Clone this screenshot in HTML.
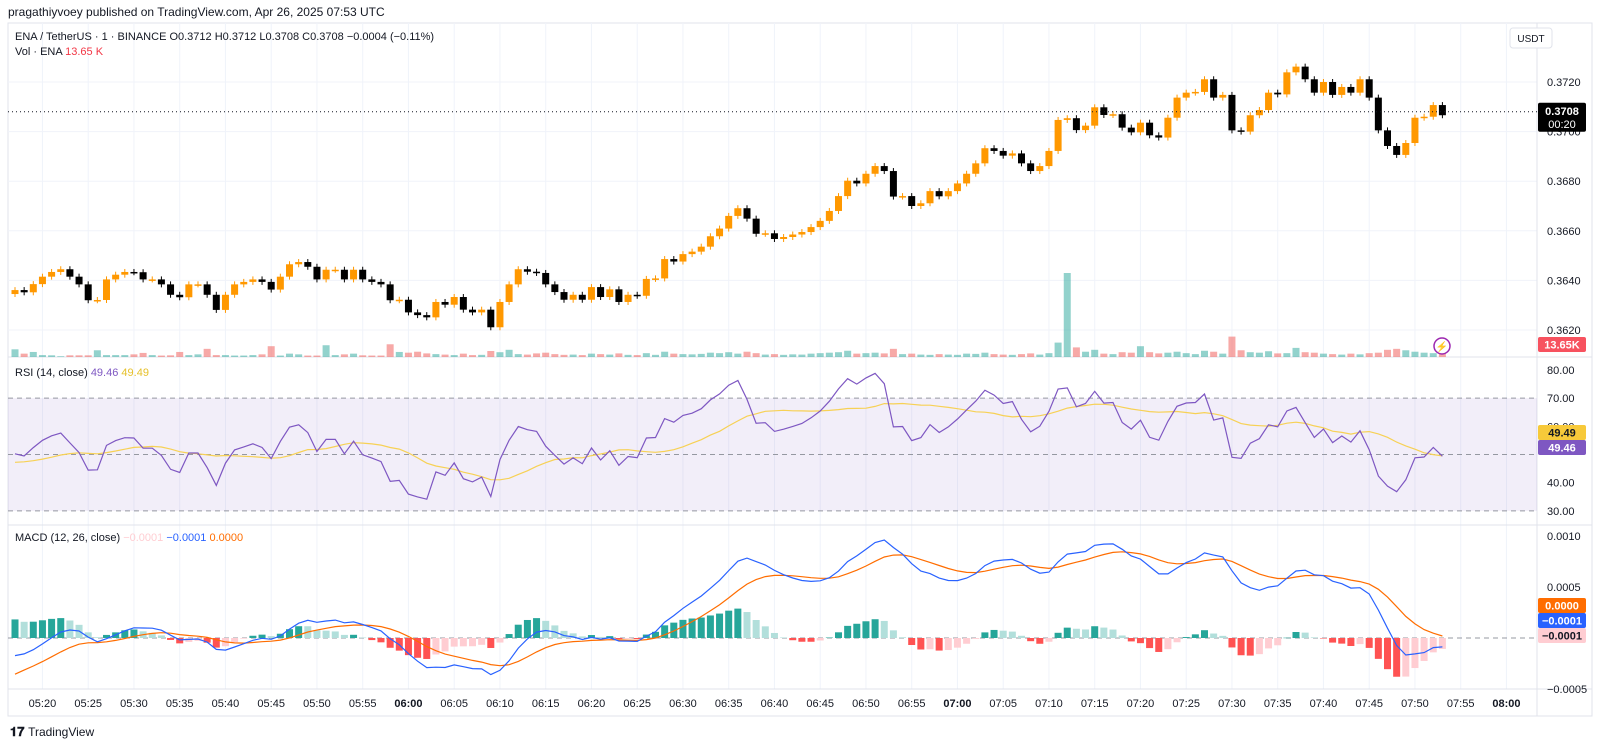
<!DOCTYPE html>
<html><head><meta charset="utf-8"><style>
body{margin:0;background:#fff;width:1600px;height:747px;overflow:hidden;font-family:"Liberation Sans",sans-serif}
svg text{font-family:"Liberation Sans",sans-serif}
</style></head><body>
<svg id="c" width="1600" height="747" viewBox="0 0 1600 747" xmlns="http://www.w3.org/2000/svg">
<rect x="0" y="0" width="1600" height="747" fill="#fff"/>
<text x="8" y="16" font-size="12" fill="#131722">pragathiyvoey published on TradingView.com, Apr 26, 2025 07:53 UTC</text>
<rect x="8" y="23" width="1584" height="693" fill="none" stroke="#e0e3eb"/>
<g id="grid"></g>
<g id="vol"></g>
<g id="candles"></g>
<g id="rsi"></g>
<g id="macd"></g>
<g id="axes"></g>
<text x="15" y="40" font-size="11" fill="#131722">ENA / TetherUS · 1 · BINANCE  O0.3712  H0.3712  L0.3708  C0.3708  −0.0004 (−0.11%)</text>
<text x="15" y="55" font-size="11" fill="#131722">Vol · ENA <tspan fill="#f23645">13.65 K</tspan></text>
<text x="15" y="376" font-size="11" fill="#131722">RSI (14, close) <tspan fill="#7e57c2">49.46</tspan> <tspan fill="#e6c02a">49.49</tspan></text>
<text x="15" y="541" font-size="11" fill="#131722">MACD (12, 26, close) <tspan fill="#ffcdd2">−0.0001</tspan> <tspan fill="#2962ff">−0.0001</tspan> <tspan fill="#ff6d00">0.0000</tspan></text>
<rect x="1510" y="28" width="42" height="20" rx="3" fill="#fff" stroke="#e0e3eb"/>
<text x="1531" y="42" font-size="10" text-anchor="middle" fill="#131722">USDT</text>
<circle cx="1442" cy="346" r="8" fill="#fff" stroke="#9c27b0" stroke-width="1.5"/>
<text x="1442" y="350" font-size="10" text-anchor="middle" fill="#9c27b0">⚡</text>
<text x="10" y="736" font-size="13" font-weight="bold" fill="#131722">𝟏𝟕 <tspan font-weight="normal" font-size="12">TradingView</tspan></text>
</svg>
<script>
const closes=[0.36361,0.36352,0.36385,0.36415,0.36434,0.36445,0.36415,0.36384,0.36320,0.36321,0.36404,0.36423,0.36434,0.36433,0.36404,0.36404,0.36384,0.36342,0.36332,0.36384,0.36384,0.36342,0.36281,0.36342,0.36384,0.36394,0.36404,0.36394,0.36363,0.36415,0.36465,0.36474,0.36455,0.36404,0.36443,0.36443,0.36404,0.36443,0.36404,0.36394,0.36384,0.36320,0.36322,
0.36271,0.36260,0.36251,0.36313,0.36302,0.36333,0.36282,0.36271,0.36282,0.36211,0.36313,0.36384,0.36445,0.36435,0.36430,0.36384,0.36353,
0.36322,0.36342,0.36322,0.36373,0.36333,0.36364,0.36313,0.36342,0.36338,0.36406,0.36408,0.36486,0.36476,0.36506,0.36516,0.36536,0.36578,0.36609,0.36660,0.36691,
0.36649,0.36588,0.36590,0.36567,0.36575,0.36585,0.36595,0.36615,0.36640,0.36680,0.36740,0.36802,0.36791,0.36830,0.36861,0.36841,0.36738,0.36740,0.36700,0.36711,
0.36760,0.36739,0.36760,0.36791,0.36830,0.36872,0.36933,0.36922,0.36903,0.36912,0.36872,0.36841,0.36861,0.36922,0.37047,0.37054,0.37006,0.37024,0.37098,0.37067,
0.37070,0.37016,0.36997,0.37036,0.36985,0.36976,0.37056,0.37137,0.37157,0.37160,0.37211,0.37137,0.37148,0.37005,0.37000,0.37066,0.37087,0.37157,0.37150,0.37239,
0.37262,0.37211,0.37157,0.37200,0.37148,0.37180,0.37157,0.37211,0.37137,0.37005,0.36942,0.36906,0.36954,0.37056,0.37060,0.37107,0.37066];
const firstOpen=0.36345;
const volumes=[32,14,21,8,7,3,7,7,7,28,8,8,8,11,17,8,6,7,21,8,11,34,8,8,6,6,8,11,45,6,14,11,6,6,49,8,11,14,7,6,6,53,21,
18,22,15,12,10,8,14,8,9,25,20,30,12,10,15,18,12,
9,10,8,14,12,10,15,9,8,16,9,22,14,12,11,13,18,16,20,14,
22,16,10,12,9,11,10,14,16,18,20,26,14,16,18,15,34,12,14,10,
9,12,10,9,14,13,18,12,10,9,12,15,10,16,60,350,40,22,30,14,
12,20,18,45,20,15,18,22,16,12,26,22,14,85,28,20,18,24,15,16,
38,20,18,14,12,10,14,11,16,18,30,34,28,22,18,16,14];
const priceTicks=[0.3720,0.3700,0.3680,0.3660,0.3640,0.3620];
const rsiTicks=[80,70,60,40,30];
const macdTicks=[0.0010,0.0005,-0.0005];
const timeLabels=["05:20","05:25","05:30","05:35","05:40","05:45","05:50","05:55","06:00","06:05","06:10","06:15","06:20","06:25","06:30","06:35","06:40","06:45","06:50","06:55","07:00","07:05","07:10","07:15","07:20","07:25","07:30","07:35","07:40","07:45","07:50","07:55","08:00"];
const lastPrice=0.3708;
// indicator warm-up state (history before the visible window)
const seedAvgGain=0.00022, seedAvgLoss=0.00023, seedRsiMa=47;
const seedEma12Offset=0, seedEma26Offset=0.0002, seedSignal=-0.0004;

const NS="http://www.w3.org/2000/svg";
function mk(tag,attrs,parent){const e=document.createElementNS(NS,tag);for(const k in attrs)e.setAttribute(k,attrs[k]);parent.appendChild(e);return e;}
const X=i=>15+i*9.15;
const Y=p=>82+(0.3720-p)*24800;
const VY=v=>357-v*0.24;
const RY=r=>454.5-(r-50)*2.82;
const MY=m=>638-m*102000;
const tMin=s=>{const [h,m]=s.split(":").map(Number);return (h*60+m)-(5*60+17);};
const PR=1537;
const grid=document.getElementById('grid'),axes=document.getElementById('axes');

timeLabels.forEach(t=>{const x=X(tMin(t));
 const l=mk('line',{x1:x,x2:x,y1:23,y2:689,stroke:'#f0f3fa'},grid);
 
 
 const tx=mk('text',{x:x,y:707,'font-size':11,'text-anchor':'middle',fill:'#131722','font-weight':/:00$/.test(t)?'bold':'normal'},axes);
 tx.textContent=t;
 
 
});
priceTicks.forEach(p=>{const y=Y(p);
 const l=mk('line',{x1:8,x2:PR,y1:y,y2:y,stroke:'#f0f3fa'},grid);
 
 
 const tx=mk('text',{x:1547,y:y+4,'font-size':11,fill:'#131722'},axes);
 tx.textContent=p.toFixed(4);
 
 
});
[357,525,689].forEach(y=>{const l=mk('line',{x1:8,x2:1592,y1:y,y2:y,stroke:'#e0e3eb'},grid);
 
 });
const sep=mk('line',{x1:PR,x2:PR,y1:23,y2:716,stroke:'#e0e3eb'},grid);



const cg=document.getElementById('candles'),vg=document.getElementById('vol');
closes.forEach((c,i)=>{
 const o=i?closes[i-1]:firstOpen;const up=c>=o;const x=X(i);
 const col=up?'#ff9800':'#000';
 const top=Math.min(Y(o),Y(c)),bot=Math.max(Y(o),Y(c));
 const w=mk('line',{x1:x,x2:x,y1:top-3,y2:bot+3,stroke:col,'stroke-width':1},cg);
 
 
 const b=mk('rect',{x:x-3.5,y:top,width:7,height:Math.max(1.5,bot-top),fill:col},cg);
 
 
 const v=volumes[i];
 const vb=mk('rect',{x:x-3.5,y:VY(v),width:7,height:357-VY(v),fill:up?'rgba(38,166,154,0.5)':'rgba(239,83,80,0.5)'},vg);
 
 
});
const ll=mk('line',{x1:8,x2:PR,y1:Y(lastPrice),y2:Y(lastPrice),stroke:'#131722','stroke-dasharray':'1 3'},axes);


function box(x,y,w,h,fill,txt,col,name,txt2){const r=mk('rect',{x:x,y:y,width:w,height:h,fill:fill,rx:2},axes);
 
 
 const t=mk('text',{x:x+w/2,y:y+(txt2?12:h/2+4),'font-size':11,'text-anchor':'middle',fill:col,'font-weight':'bold'},axes);t.textContent=txt;
 
 
 if(txt2){const t2=mk('text',{x:x+w/2,y:y+25,'font-size':11,'text-anchor':'middle',fill:col},axes);t2.textContent=txt2;
 
 }}
box(1538,Y(lastPrice)-9,48,29,'#000','0.3708','#fff','last-price-box','00:20');
box(1538,337,48,15,'#f7525f','13.65K','#fff','volume-value-box');

// RSI
const rg=document.getElementById('rsi');
const band=mk('rect',{x:8,y:RY(70),width:PR-8,height:RY(30)-RY(70),fill:'rgba(126,87,194,0.1)'},rg);


[70,50,30].forEach(v=>{const l=mk('line',{x1:8,x2:PR,y1:RY(v),y2:RY(v),stroke:'#9598a1','stroke-dasharray':'5 4'},rg);
 
 });
rsiTicks.forEach(v=>{const t=mk('text',{x:1547,y:RY(v)+4,'font-size':11,fill:'#131722'},axes);t.textContent=v.toFixed(2);
 
 });
const rsi=[];let ag=seedAvgGain,al=seedAvgLoss;
for(let i=0;i<closes.length;i++){const ch=i?closes[i]-closes[i-1]:closes[0]-firstOpen;const g=Math.max(ch,0),l=Math.max(-ch,0);
 ag=(ag*13+g)/14;al=(al*13+l)/14;rsi[i]=al===0?100:100-100/(1+ag/al);}
const rsiMa=rsi.map((v,i)=>{let s=0;for(let k=i-13;k<=i;k++)s+=k>=0?rsi[k]:seedRsiMa;return s/14;});
const pl=(arr,f)=>arr.map((v,i)=>X(i).toFixed(1)+','+f(v).toFixed(1)).join(' ');
const rm=mk('polyline',{points:pl(rsiMa,RY),fill:'none',stroke:'#f7d155','stroke-width':1.2},rg);


const rl=mk('polyline',{points:pl(rsi,RY),fill:'none',stroke:'#7e57c2','stroke-width':1.2},rg);


box(1538,425,48,15,'#f7c93a','49.49','#131722','rsi-ma-value-box');
box(1538,440,48,15,'#7e57c2','49.46','#fff','rsi-value-box');

// MACD
const mg=document.getElementById('macd');
let e12=firstOpen+seedEma12Offset,e26=firstOpen+seedEma26Offset,sg=seedSignal;const macd=[],signal=[],hist=[];
closes.forEach((c,i)=>{e12=e12+(c-e12)*2/13;e26=e26+(c-e26)*2/27;macd[i]=e12-e26;
 sg=sg+(macd[i]-sg)*0.2;signal[i]=sg;hist[i]=macd[i]-signal[i];});
const z=mk('line',{x1:8,x2:PR,y1:MY(0),y2:MY(0),stroke:'#9598a1','stroke-dasharray':'5 4'},mg);


hist.forEach((h,i)=>{const prev=i?hist[i-1]:h;
 const col=h>=0?(h>=prev?'#26a69a':'#b2dfdb'):(h<prev?'#ff5252':'#ffcdd2');
 const y0=MY(0),y1=MY(h);
 const r=mk('rect',{x:X(i)-3.5,y:Math.min(y0,y1),width:7,height:Math.max(0.5,Math.abs(y1-y0)),fill:col},mg);
 
 });
const sl=mk('polyline',{points:pl(signal,MY),fill:'none',stroke:'#ff6d00','stroke-width':1.2},mg);


const ml=mk('polyline',{points:pl(macd,MY),fill:'none',stroke:'#2962ff','stroke-width':1.2},mg);


macdTicks.forEach(v=>{const t=mk('text',{x:1547,y:MY(v)+4,'font-size':11,fill:'#131722'},axes);t.textContent=(v<0?'−':'')+Math.abs(v).toFixed(4);
 
 });
box(1538,598,48,15,'#ff6d00','0.0000','#fff','macd-signal-value-box');
box(1538,613,48,15,'#2962ff','−0.0001','#fff','macd-value-box');
box(1538,628,48,15,'#ffcdd2','−0.0001','#131722','macd-histogram-value-box');
</script>
</body></html>
